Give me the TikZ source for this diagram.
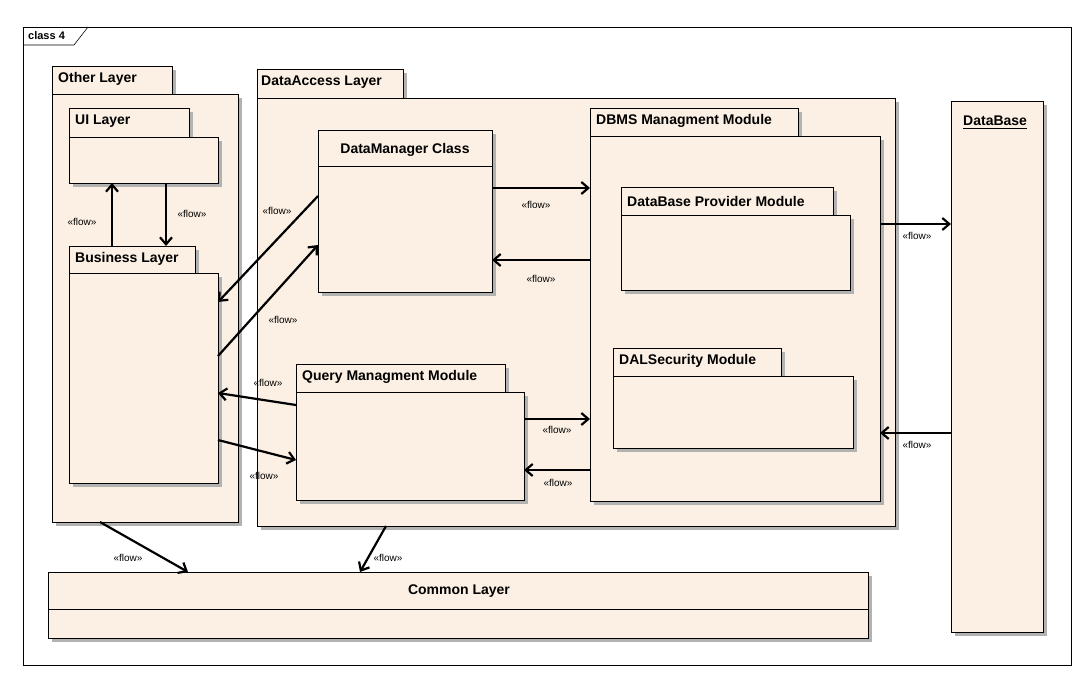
\documentclass[tikz,border=0pt]{standalone}
\usepackage{fontspec}
\setmainfont{Liberation Sans}
\usetikzlibrary{fit,arrows.meta}
\definecolor{pk}{HTML}{FBF0E3}
\tikzset{
  x=1pt,y=-1pt,
  bx/.style={draw,fill=pk,line width=0.8pt,inner sep=0pt,outer sep=0pt},
  shd/.style={fill=black!30},
  ttl/.style={font=\bfseries\fontsize{14}{16}\selectfont,anchor=west,inner sep=0pt},
  fl/.style={font=\fontsize{10}{12}\selectfont},
  ar/.style={line width=2.2pt,->,>={Straight Barb[length=7pt,width=12pt]}},
}
\newcommand{\pk}[9]{%
  \fill[shd] (#2+4,#3+4) rectangle (#4+4,#5+4);
  \fill[shd] (#6+4,#5+4) rectangle (#8+4,#9+4);
  \node[bx,fit={(#6,#5)(#8,#9)}] (#1) {};
  \node[bx,fit={(#2,#3)(#4,#5)}] (#1t) {};
}
\begin{document}
\begin{tikzpicture}
\useasboundingbox (0,0) rectangle (1089,677);
\fill[white] (0,0) rectangle (1089,677);
\draw[line width=0.6pt] (23,27) rectangle (1071,665);
\draw[line width=0.6pt] (23,45) -- (74,45) -- (88,27);
\node[font=\bfseries\fontsize{11}{12}\selectfont,anchor=west,inner sep=0pt] at (28,36) {class 4};
% packages
\pk{other}{52}{66}{172}{94}{52}{94}{238}{522}
\node[ttl] at (58,79) {Other Layer};
\pk{da}{257}{69}{403}{98}{257}{98}{895}{526}
\node[ttl] at (261,82) {DataAccess Layer};
\pk{ui}{69}{108}{189}{137}{69}{137}{218}{183}
\node[ttl] at (75,121) {UI Layer};
\pk{bus}{69}{246}{195}{273}{69}{273}{218}{483}
\node[ttl] at (75,259) {Business Layer};
\pk{dbms}{590}{108}{798}{136}{590}{136}{880}{501}
\node[ttl] at (596,121) {DBMS Managment Module};
\pk{prov}{621}{187}{833}{215}{621}{215}{850}{290}
\node[ttl] at (627,201) {DataBase Provider Module};
\pk{sec}{613}{348}{781}{376}{613}{376}{853}{448}
\node[ttl] at (619,361) {DALSecurity Module};
\pk{qm}{296}{364}{505}{392}{296}{392}{524}{500}
\node[ttl] at (302,377) {Query Managment Module};
% class
\fill[shd] (322,134) rectangle (496,296);
\node[bx,fit={(318,130)(492,292)}] (dm) {};
\draw[line width=0.6pt] (318,166) -- (492,166);
\node[ttl,anchor=center] at (405,150) {DataManager Class};
% database
\fill[shd] (955,105) rectangle (1047,636);
\node[bx,fit={(951,101)(1043,632)}] (db) {};
\node[ttl] (dbl) at (963,121) {DataBase};
\draw[line width=0.6pt] ([yshift=-2pt]dbl.south west) -- ([yshift=-2pt]dbl.south east);
% common
\fill[shd] (52,576) rectangle (872,642);
\node[bx,fit={(48,572)(868,638)}] (cl) {};
\draw[line width=0.6pt] (48,609) -- (868,609);
\node[ttl,anchor=center] at (459,591) {Common Layer};
% connectors
\draw[ar] (bust.north -| 112,0) -- (ui.south -| 112,0);
\node[fl] at (82,222) {«flow»};
\draw[ar] (ui.south -| 166,0) -- (bust.north -| 166,0);
\node[fl] at (192,214) {«flow»};
\draw[ar] (dm.west |- 0,196) -- (bus.east |- 0,302);
\node[fl] at (277,211) {«flow»};
\draw[ar] (bus.east |- 0,356) -- (dm.west |- 0,245);
\node[fl] at (283,320) {«flow»};
\draw[ar] (dm.east |- 0,188) -- (dbms.west |- 0,188);
\node[fl] at (536,205) {«flow»};
\draw[ar] (dbms.west |- 0,260) -- (dm.east |- 0,260);
\node[fl] at (541,279) {«flow»};
\draw[ar] (dbms.east |- 0,224) -- (db.west |- 0,224);
\node[fl] at (917,236) {«flow»};
\draw[ar] (db.west |- 0,433) -- (dbms.east |- 0,433);
\node[fl] at (917,445) {«flow»};
\draw[ar] (qm.west |- 0,405) -- (bus.east |- 0,393);
\node[fl] at (268,383) {«flow»};
\draw[ar] (bus.east |- 0,440) -- (qm.west |- 0,460);
\node[fl] at (264,476) {«flow»};
\draw[ar] (qm.east |- 0,419) -- (dbms.west |- 0,419);
\node[fl] at (557,430) {«flow»};
\draw[ar] (dbms.west |- 0,470) -- (qm.east |- 0,470);
\node[fl] at (558,483) {«flow»};
\draw[ar] (other.south -| 100,0) -- (cl.north -| 188,0);
\node[fl] at (128,558) {«flow»};
\draw[ar] (da.south -| 386,0) -- (cl.north -| 360,0);
\node[fl] at (388,558) {«flow»};
\end{tikzpicture}
\end{document}
